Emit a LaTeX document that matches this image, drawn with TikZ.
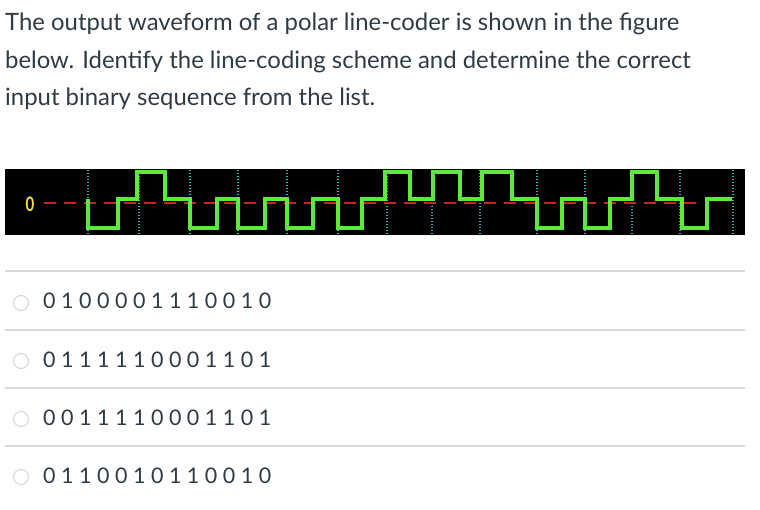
\documentclass[tikz,border=0pt]{standalone}
\usepackage{fontspec}
\setmainfont{Lato}
\definecolor{txt}{HTML}{2D3B45}
\definecolor{sep}{HTML}{D8D8D8}
\definecolor{wave}{HTML}{5CEB3C}
\definecolor{grid}{HTML}{3AB3C0}
\definecolor{zero}{HTML}{C0281C}
\definecolor{yel}{HTML}{F0E040}
\begin{document}
\begin{tikzpicture}[x=1pt,y=-1pt,
  q/.style={anchor=base west,inner sep=0,text=txt,font=\fontsize{23.9}{28}\selectfont},
  opt/.style={anchor=base west,inner sep=0,text=txt,font=\fontsize{21.5}{24}\selectfont},
  sepline/.style={sep,line width=1.2pt},
  radio/.style={circle,draw=gray!40,fill=white,minimum size=15pt,inner sep=0,line width=0.8pt}]
\useasboundingbox (0,0) rectangle (760,510);
\node[q] (l1) at (5,31) {The output waveform of a polar line-coder is shown in the figure};
\node[q] (l2) at (5,69) {below. Identify the line-coding scheme and determine the correct};
\node[q] (l3) at (5,106) {input binary sequence from the list.};
% scope
\fill[black] (5,169) rectangle (745,235);
\foreach \x in {88,139,190,238,287,338,387,432,480,537,585,632,680,733}
  \draw[grid,line width=1.6pt,dash pattern=on 1.5pt off 1.5pt] (\x,170) -- (\x,234);
\draw[zero,line width=2.5pt,dash pattern=on 12pt off 8pt] (44,203) -- (700,203);
\node[text=yel,font=\bfseries\fontsize{20}{20}\selectfont,inner sep=0,xscale=0.75] (z) at (30,204) {0};
\draw[wave,line width=4pt,line join=miter]
 (88,199) -- (88,228) -- (118,228) -- (118,199) -- (137,199) -- (137,172) -- (165,172) -- (165,199)
 -- (190,199) -- (190,228) -- (217,228) -- (217,199) -- (238,199) -- (238,228) -- (265,228) -- (265,199)
 -- (287,199) -- (287,228) -- (313,228) -- (313,199) -- (338,199) -- (338,228) -- (362,228) -- (362,199)
 -- (385,199) -- (385,172) -- (410,172) -- (410,199) -- (433,199) -- (433,172) -- (460,172) -- (460,199)
 -- (482,199) -- (482,172) -- (512,172) -- (512,199) -- (537,199) -- (537,228) -- (562,228) -- (562,199)
 -- (585,199) -- (585,228) -- (610,228) -- (610,199) -- (632,199) -- (632,172) -- (657,172) -- (657,199)
 -- (682,199) -- (682,228) -- (707,228) -- (707,199) -- (732,199);
% options
\foreach \y in {271,330,388,446} \draw[sepline] (5,\y) -- (745,\y);
\node[radio] (r1) at (21,303) {};
\node[radio] (r2) at (21,361) {};
\node[radio] (r3) at (21,419) {};
\node[radio] (r4) at (21,477) {};
\node[opt] (o1) at (43,309) {0 1 0 0 0 0 1 1 1 0 0 1 0};
\node[opt] (o2) at (43,367) {0 1 1 1 1 1 0 0 0 1 1 0 1};
\node[opt] (o3) at (43,425) {0 0 1 1 1 1 0 0 0 1 1 0 1};
\node[opt] (o4) at (43,483) {0 1 1 0 0 1 0 1 1 0 0 1 0};
\end{tikzpicture}
\end{document}
